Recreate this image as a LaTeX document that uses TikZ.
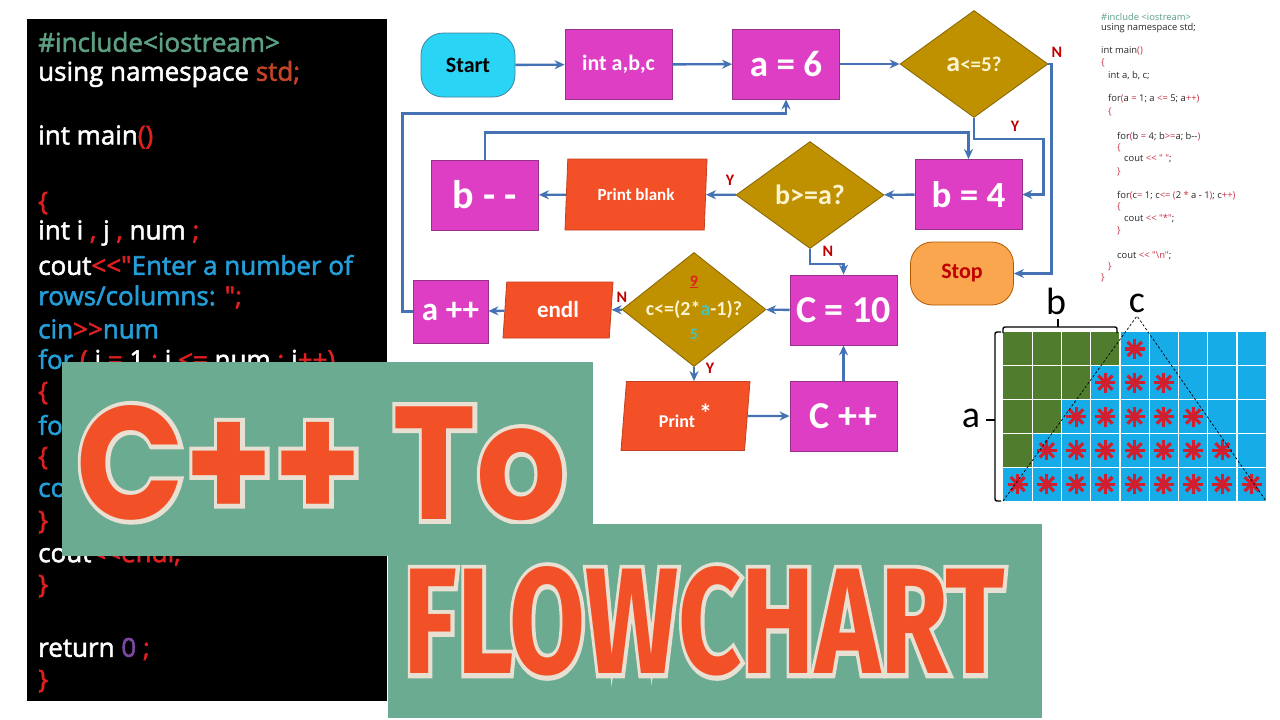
\documentclass[tikz,border=0pt]{standalone}
\usepackage{fontspec}
\usepackage{graphicx}
\setmainfont{Open Sans}[Ligatures=TeXOff]
\newfontfamily\codefont{Open Sans}[Ligatures=TeXOff, FakeBold=2]
\newfontfamily\chartfont{Carlito}[Ligatures=TeXOff]
\newfontfamily\roundfont{Poppins}
\newfontfamily\roundedge{Poppins}[BoldFeatures={FakeBold=5.5}]
\newfontfamily\condfont{Fira Sans}
\newfontfamily\condedge{Fira Sans}[BoldFeatures={FakeBold=6}]
\usetikzlibrary{arrows.meta, positioning, shapes.geometric, calc}
\definecolor{codered}{RGB}{222,32,32}
\definecolor{codeblue}{RGB}{36,158,216}
\definecolor{incgreen}{RGB}{92,160,132}
\definecolor{stdred}{RGB}{196,68,40}
\definecolor{zeropurple}{RGB}{124,72,164}
\definecolor{procpink}{RGB}{222,62,196}
\definecolor{procedge}{RGB}{150,50,140}
\definecolor{startcyan}{RGB}{42,212,245}
\definecolor{stoporange}{RGB}{250,166,78}
\definecolor{decgold}{RGB}{191,144,0}
\definecolor{ioorange}{RGB}{244,80,40}
\definecolor{arrowblue}{RGB}{68,114,180}
\definecolor{labelred}{RGB}{192,0,0}
\definecolor{creamtxt}{RGB}{252,244,206}
\definecolor{tealtxt}{RGB}{70,196,186}
\definecolor{minigray}{RGB}{40,40,40}
\definecolor{minired}{RGB}{200,50,70}
\definecolor{gridblue}{RGB}{22,172,232}
\definecolor{gridgreen}{RGB}{80,124,46}
\definecolor{starred}{RGB}{208,32,48}
\definecolor{titlegreen}{RGB}{106,171,146}
\definecolor{titleorange}{RGB}{242,80,38}
\definecolor{titleedge}{RGB}{232,224,210}

\newcommand{\sz}[1]{\fontsize{#1}{#1}\selectfont}
\newcommand{\rd}[1]{\textcolor{codered}{#1}}
\newcommand{\bl}[1]{\textcolor{codeblue}{#1}}
\newcommand{\mr}[1]{\textcolor{minired}{#1}}
\newcommand{\cppedge}{\resizebox{490pt}{114pt}{\roundedge\bfseries\sz{160}C++ To}}
\newcommand{\cpptitle}{\resizebox{490pt}{114pt}{\roundfont\bfseries\sz{160}C++ To}}
\newcommand{\flowedge}{\resizebox{601pt}{107pt}{\condedge\bfseries\sz{160}FLOWCHART}}
\newcommand{\flowtitle}{\resizebox{601pt}{107pt}{\condfont\bfseries\sz{160}FLOWCHART}}

\tikzset{
  code/.style={anchor=west, inner sep=0pt, text=white, font=\codefont\sz{26}},
  minicode/.style={anchor=west, inner sep=0pt, text=minigray, font=\sz{9.4}},
  procbox/.style={rectangle, draw=procedge, line width=0.8pt, fill=procpink,
    minimum width=107pt, minimum height=70pt, text=white, font=\chartfont\bfseries},
  startbox/.style={rectangle, rounded corners=22pt, draw=cyan!60!black, line width=0.8pt,
    fill=startcyan, minimum width=94pt, minimum height=64pt, font=\chartfont\bfseries\sz{22}},
  stopbox/.style={rectangle, rounded corners=22pt, draw=orange!70!black, line width=0.8pt,
    fill=stoporange, minimum width=103pt, minimum height=63pt, text=labelred,
    font=\chartfont\bfseries\sz{22}},
  decide/.style={diamond, draw=decgold!70!black, line width=0.8pt, fill=decgold,
    inner sep=0pt, text=creamtxt, font=\chartfont\bfseries},
  iobox/.style={trapezium, trapezium left angle=77, trapezium right angle=103,
    trapezium stretches body, draw=ioorange!80!black, line width=0.8pt, fill=ioorange,
    inner sep=0pt, text=white, font=\chartfont\bfseries},
  arr/.style={draw=arrowblue, line width=2.4pt, -{Stealth[length=10pt,width=9pt]}},
  yn/.style={text=labelred, font=\chartfont\bfseries\sz{16}, inner sep=0pt},
  starline/.style={draw=starred, line width=3.2pt},
  brace/.style={draw=black, line width=1.4pt, rounded corners=2pt},
  gridlabel/.style={font=\chartfont\sz{38}, inner sep=0pt},
  titlebox/.style={inner sep=0pt},
}

\begin{document}
\begin{tikzpicture}[x=1pt, y=-1pt]
    \useasboundingbox (0,0) rectangle (1280,720);
    \fill[white] (0,0) rectangle (1280,720);

    % The source code on black
    \fill[black] (27,19) rectangle (387,701);
    \node[code] (l1) at (38,42) {\textcolor{incgreen}{\#include<iostream>}};
    \node[code] (l2) at (38,74) {using namespace \textcolor{stdred}{std;}};
    \node[code] (l3) at (38,137) {int main\rd{()}};
    \node[code] (l4) at (38,203) {\rd{\{}};
    \node[code] (l5) at (38,233) {int i \rd{,} j \rd{,} num \rd{;}};
    \node[code] (l6) at (38,265) {cout\rd{<<"}\bl{Enter a number of}};
    \node[code] (l7) at (38,297) {\bl{rows/columns: }\rd{";}};
    \node[code] (l8) at (38,329) {\bl{cin}\rd{>>}\bl{num}};
    \node[code] (l9) at (38,361) {\bl{for} \rd{(} i \rd{=} 1 \rd{;} i \rd{<=} num \rd{;} i\rd{++)}};
    \node[code] (l10) at (38,393) {\rd{\{}};
    \node[code] (l11) at (38,425) {\bl{fo}};
    \node[code] (l12) at (38,458) {\rd{\{}};
    \node[code] (l13) at (38,490) {\bl{co}};
    \node[code] (l14) at (38,522) {\rd{\}}};
    \node[code] (l15) at (38,554) {cout\rd{<<endl;}};
    \node[code] (l16) at (38,586) {\rd{\}}};
    \node[code] (l17) at (38,649) {return \textcolor{zeropurple}{0} \rd{;}};
    \node[code] (l18) at (38,681) {\rd{\}}};

    % Flowchart
    \node[startbox] (start) at (468,65) {Start};
    \node[procbox] (decl) at (618.5,64.5) {\sz{22}int a,b,c};
    \node[procbox] (asix) at (786,64) {\sz{37}a = 6};
    \node[decide, minimum width=148pt, minimum height=107pt] (cmpa) at (974,64) {{\sz{28}a}\sz{21}<=5?};
    \node[procbox] (bfour) at (968.5,194.5) {\sz{37}b = 4};
    \node[decide, minimum width=148pt, minimum height=107pt] (cmpb) at (810,195) {\sz{28}b>=a?};
    \node[iobox, minimum width=142pt, minimum height=71pt] (pblank) at (636,194.5) {\sz{17}Print blank};
    \node[procbox] (bdec) at (485,195) {\sz{40}b - -};
    \node[stopbox] (stop) at (962,273.5) {Stop};
    \node[procbox] (cten) at (843.5,310) {\sz{38}C = 10};
    \node[decide, minimum width=144pt, minimum height=99pt] (cmpc) at (694,309.5) {\sz{20}c<=(2*\textcolor{tealtxt}{a}-1)?};
    \node[text=codered, font=\chartfont\bfseries\sz{16}, inner sep=0pt] (nine) at (694,282) {\underline{9}};
    \node[text=tealtxt, font=\chartfont\bfseries\sz{16}, inner sep=0pt] (five) at (694,334) {5};
    \node[iobox, minimum width=110pt, minimum height=56pt] (endl) at (558,310) {\sz{23}endl};
    \node[procbox, minimum width=75pt, minimum height=63pt] (ainc) at (450.5,311.5) {\sz{33}a ++};
    \node[iobox, minimum width=129pt, minimum height=69pt] (pstar) at (685.5,416) {\sz{18}Print \raisebox{5pt}{\sz{26}*}};
    \node[procbox] (cinc) at (843.5,416) {\sz{38}C ++};

    \draw[arr] (start) -- (decl);
    \draw[arr] (decl) -- (asix);
    \draw[arr] (asix) -- (cmpa);
    \draw[arr] (cmpa.south) -- ++(0,21) -| ($(bfour.east)+(21,0)$) -- (bfour.east);
    \draw[arr] (cmpa.east) -- ++(3,0) |- (stop.east);
    \draw[arr] (bfour) -- (cmpb);
    \draw[arr] (cmpb) -- (pblank);
    \draw[arr] (pblank) -- (bdec);
    \draw[arr] (bdec.north) -- ++(0,-27) -| (bfour.north);
    \draw[arr] (cmpb.south) -- ++(0,15) -| (cten.north);
    \draw[arr] (cten) -- (cmpc);
    \draw[arr] (cmpc) -- (endl);
    \draw[arr] (endl) -- (ainc);
    \draw[arr] (ainc.west) -- ++(-10,0) |- ($(asix.south)+(0,14)$) -- (asix.south);
    \draw[arr] (cmpc.south) -- (cmpc.south |- pstar.north);
    \draw[arr] (pstar) -- (cinc);
    \draw[arr] (cinc) -- (cten);

    \node[yn] (ya) at (1015,126) {Y};
    \node[yn] (na) at (1057,52) {N};
    \node[yn] (yb) at (730,180) {Y};
    \node[yn] (nb) at (828,251) {N};
    \node[yn] (nc) at (622,297) {N};
    \node[yn] (yc) at (710,368) {Y};

    % Small code on the right
    \node[minicode] (s1) at (1101,17) {\textcolor{incgreen}{\#include <iostream>}};
    \node[minicode] (s2) at (1101,28) {using namespace std;};
    \node[minicode] (s3) at (1101,51) {int main\mr{()}};
    \node[minicode] (s4) at (1101,63) {\mr{\{}};
    \node[minicode] (s5) at (1108,76) {int a, b, c;};
    \node[minicode] (s6) at (1108,99) {for\mr{(}a \mr{=} 1; a \mr{<=} 5; a\mr{++)}};
    \node[minicode] (s7) at (1108,112) {\mr{\{}};
    \node[minicode] (s8) at (1117,137) {for\mr{(}b \mr{=} 4; b\mr{>=}a; b--\mr{)}};
    \node[minicode] (s9) at (1117,148) {\mr{\{}};
    \node[minicode] (s10) at (1124,159) {cout \mr{<<} \mr{" "};};
    \node[minicode] (s11) at (1117,172) {\mr{\}}};
    \node[minicode] (s12) at (1117,196) {for\mr{(}c\mr{=} 1; c\mr{<=} \mr{(}2 \mr{*} a - 1\mr{)}; c\mr{++)}};
    \node[minicode] (s13) at (1117,207) {\mr{\{}};
    \node[minicode] (s14) at (1124,219) {cout \mr{<<} \mr{"*"};};
    \node[minicode] (s15) at (1117,231) {\mr{\}}};
    \node[minicode] (s16) at (1117,256) {cout \mr{<<} \mr{"\textbackslash n"};};
    \node[minicode] (s17) at (1108,267) {\mr{\}}};
    \node[minicode] (s18) at (1101,278) {\mr{\}}};

    % Star grid
    \fill[gridblue] (1003,332) rectangle (1266,501);
    \fill[gridgreen] (1003,332) -- (1120,332) -- (1120,365.8) -- (1090.75,365.8)
        -- (1090.75,399.6) -- (1061.5,399.6) -- (1061.5,433.4) -- (1032.25,433.4)
        -- (1032.25,467.2) -- (1003,467.2) -- cycle;
    \foreach \i in {1,...,8}
        \draw[white, line width=1.2pt] ({1003+\i*29.25},332) -- ++(0,169);
    \foreach \i in {1,...,4}
        \draw[white, line width=1.2pt] (1003,{332+\i*33.8}) -- ++(263,0);
    \foreach \r/\a/\b in {1/5/5,2/4/6,3/3/7,4/2/8,5/1/9} {
        \foreach \c in {\a,...,\b} {
            \begin{scope}[shift={({1003+(\c-0.5)*29.25},{332+(\r-0.5)*33.8})}]
                \foreach \t in {0,45,90,135}
                    \draw[starline] (\t:10) -- (\t+180:10);
            \end{scope}
        }
    }
    \draw[line width=0.7pt, dash pattern=on 2.5pt off 2pt] (1003,501) -- (1137,316) -- (1266,501);
    \draw[brace] (1003,333) -- (1003,327) -- (1117,327) -- (1117,333);
    \draw[line width=1.4pt] (1058,327) -- (1058,319);
    \draw[brace] (1001,332) -- (995,332) -- (995,501) -- (1001,501);
    \draw[line width=1.4pt] (995,420) -- (986,420);
    \node[gridlabel] (lb) at (1056,301) {b};
    \node[gridlabel] (lc) at (1137,303) {c};
    \node[gridlabel] (la) at (971,418) {a};

    % Title panels
    \fill[titlegreen] (62,362) rectangle (593,556);
    \node[titlebox, text=titleedge] (cppo) at (322,463) {\cppedge};
    \node[titlebox, text=titleorange] (cpp) at (322,463) {\cpptitle};

    \fill[titlegreen] (388,524) rectangle (1042,718);
    \node[titlebox, text=titleedge] (flowo) at (704.5,621.5) {\flowedge};
    \node[titlebox, text=titleorange] (flow) at (704.5,621.5) {\flowtitle};
\end{tikzpicture}
\end{document}
